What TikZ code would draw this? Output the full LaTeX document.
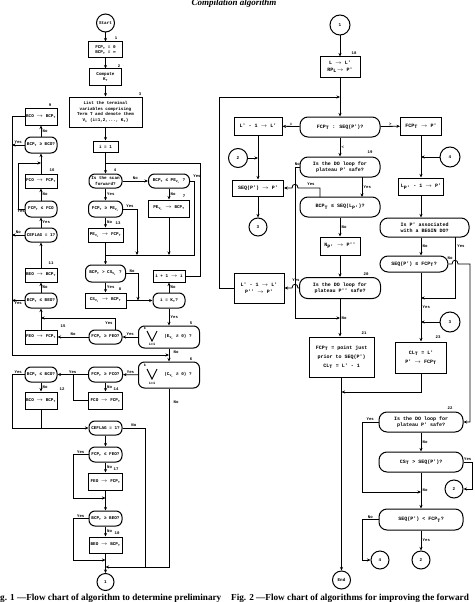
\documentclass[tikz,border=0pt]{standalone}
\usepackage{fontspec}
\setmainfont{Liberation Serif}
\newfontfamily\dtt{Liberation Mono}
\usetikzlibrary{arrows.meta}
\newcommand{\sbs}[1]{\textsubscript{#1}}
\newcommand{\rarr}{$\rightarrow$}
\tikzset{
  sz/.style 2 args={minimum width=#1pt, minimum height=#2pt},
  box/.style={draw, line width=1pt, inner sep=0.5pt, align=center, font=\dtt\bfseries\fontsize{4.3}{5.6}\selectfont},
  stad/.style={box, rounded corners=6pt},
  rbox/.style={box, font=\dtt\bfseries\fontsize{5}{6.5}\selectfont},
  rstad/.style={rbox, rounded corners=8pt},
  circ/.style={draw, circle, line width=1pt, inner sep=0pt, font=\dtt\bfseries\fontsize{4.3}{5}\selectfont},
  lab/.style={font=\dtt\bfseries\fontsize{4}{4}\selectfont, inner sep=0.3pt},
  tiny/.style={font=\dtt\bfseries\fontsize{3.5}{3.5}\selectfont, inner sep=0pt},
  con/.style={line width=0.8pt},
  vee/.style={line width=0.9pt, line join=miter},
  arr/.style={con, -{Stealth[length=3.5pt,width=3pt]}},
}
\begin{document}
\begin{tikzpicture}[x=1pt,y=-1pt]
\useasboundingbox (0,0) rectangle (474,602);
\fill[white] (0,0) rectangle (474,602);
% title and captions
\node[font=\fontsize{9}{9}\selectfont\itshape\bfseries, anchor=base] (title) at (234,6) {Compilation algorithm};
\node[font=\fontsize{9.2}{9.2}\selectfont\bfseries, anchor=base west, inner sep=0] (cap1) at (0,600) {g. 1 ---Flow chart of algorithm to determine preliminary};
\node[font=\fontsize{9.2}{9.2}\selectfont\bfseries, anchor=base west, inner sep=0] (cap2) at (231,600) {Fig. 2 ---Flow chart of algorithms for improving the forward};

% ================= LEFT CHART =================
\node[circ, minimum size=18pt] (start) at (105.5,23) {Start};
\node[box, sz={34}{16}] (b1) at (105.5,50) {FCP\sbs{T} = 0\\BCP\sbs{T} = ∞};
\node[lab] (l1) at (116,38) {1};
\node[box, sz={32}{16}] (b2) at (105.5,77) {Compute\\K\sbs{T}};
\node[lab] (l2) at (119,66) {2};
\node[box, sz={73}{30}] (b3) at (105.5,112) {List the terminal\\variables comprising\\Term T and denote them\\V\sbs{i} (i=1,2,..., K\sbs{T})};
\node[lab] (l3) at (140,94) {3};
\node[box, sz={32}{17}] (b9) at (41,116.5) {BCO \rarr{} BCP\sbs{T}};
\node[lab] (l9) at (50,105) {9};
\node[stad, sz={32}{16}] (sA) at (41,145) {BCP\sbs{T} ≥ BCO?};
\node[box, sz={25}{11}] (bi1) at (105.5,146.5) {i = 1};
\node[box, sz={32}{14}] (b16) at (41,181) {FCO \rarr{} FCP\sbs{T}};
\node[lab] (l16) at (52,170) {16};
\node[stad, sz={33}{14}] (s4) at (105.5,181) {Is the scan\\forward?};
\node[lab] (l4) at (115,170) {4};
\node[stad, sz={41}{14}] (sB) at (169,181) {BCP\sbs{T} ≤ PE\sbs{V\sbs{1}} ?};
\node[stad, sz={32}{16}] (sC) at (41,209) {FCP\sbs{T} ≤ FCO};
\node[stad, sz={34}{16}] (sD) at (105.5,209) {FCP\sbs{T} ≥ PE\sbs{V\sbs{1}}};
\node[box, sz={41}{17}] (b7) at (169,208.5) {PE\sbs{V\sbs{1}} \rarr{} BCP\sbs{T}};
\node[lab] (l7) at (184,196) {7};
\node[stad, sz={32}{14}] (sE) at (41,235) {CEFLAG = 1?};
\node[box, sz={35}{14}] (b13) at (105.5,235) {PE\sbs{V\sbs{1}} \rarr{} FCP\sbs{T}};
\node[lab] (l13) at (118,223) {13};
\node[box, sz={32}{14}] (b11) at (41,275) {BEO \rarr{} BCP\sbs{T}};
\node[lab] (l11) at (51,263) {11};
\node[stad, sz={40}{17}] (sF) at (105.5,273.5) {BCP\sbs{T} > CS\sbs{V\sbs{1}} ?};
\node[box, sz={32}{12}] (binc) at (169,276) {i + 1 \rarr{} i};
\node[stad, sz={32}{15}] (sG) at (41,300.5) {BCP\sbs{T} ≤ BEO?};
\node[box, sz={41}{15}] (b8) at (105.5,300.5) {CS\sbs{V\sbs{1}} \rarr{} BCP\sbs{T}};
\node[lab] (l8) at (120,289) {8};
\node[stad, sz={32}{15}] (sH) at (169,300.5) {i = K\sbs{T}?};
\node[box, sz={32}{14}] (b15) at (41,337) {FEO \rarr{} FCP\sbs{T}};
\node[lab] (l15) at (63,326) {15};
\node[stad, sz={33}{14}] (sI) at (105.5,337) {FCP\sbs{T} ≥ FEO?};
% big OR conditions
\node[stad, sz={61}{22}] (s5) at (169,337) {\hspace{18pt}(E\sbs{V\sbs{i}} ≠ 0) ?};
\draw[vee] (147,331) -- (152,341) -- (157,331);
\node[tiny] (k5) at (145,328) {k};
\node[tiny] (i5) at (152,344.5) {i=1};
\node[lab] (l5) at (191,323) {5};
\node[stad, sz={61}{26}] (s6) at (169,375) {\hspace{18pt}(C\sbs{V\sbs{i}} ≠ 0) ?};
\draw[vee] (147,369) -- (152,379) -- (157,369);
\node[tiny] (k6) at (145,365.5) {k};
\node[tiny] (i6) at (152,383) {i=1};
\node[lab] (l6) at (191,359) {6};
\node[stad, sz={32}{15}] (sJ) at (41,374.5) {BCP\sbs{T} ≤ BCO?};
\node[stad, sz={34}{15}] (sK) at (105.5,374.5) {FCP\sbs{T} ≥ FCO?};
\node[box, sz={32}{17}] (b12) at (41,400.5) {BCO \rarr{} BCP\sbs{T}};
\node[lab] (l12) at (62,389) {12};
\node[box, sz={34}{17}] (b14) at (105.5,400.5) {FCO \rarr{} FCP\sbs{T}};
\node[lab] (l14) at (116,389) {14};
\node[stad, sz={33}{14}] (sL) at (105.5,428) {CEFLAG = 1?};
\node[stad, sz={33}{15}] (sM) at (105.5,454.5) {FCP\sbs{T} ≤ FEO?};
\node[box, sz={34}{17}] (b17) at (105.5,481.5) {FEO \rarr{} FCP\sbs{T}};
\node[lab] (l17) at (116,469) {17};
\node[stad, sz={33}{15}] (sN) at (105.5,518.5) {BCP\sbs{T} ≥ BEO?};
\node[box, sz={33}{16}] (b10) at (105.5,545) {BEO \rarr{} BCP\sbs{T}};
\node[lab] (l10) at (117,533) {10};
\node[circ, minimum size=17pt] (c1) at (105.5,582) {1};

% left connectors
\draw[arr] (start) -- (b1);
\draw[arr] (b1) -- (b2);
\draw[arr] (b2) -- (b3);
\draw[arr] (b3) -- (bi1);
\draw[arr] (bi1) -- (s4);
\draw[arr] (s4) -- node[lab, above=0.5pt]{No} (sB);
\draw[arr] (s4) -- node[lab, right=1pt]{Yes} (sD);
\draw[arr] (sB) -- node[lab, right=1pt]{No} (b7);
\draw[con] (sB.east) -- (194,181) -- (194,255) -- (105.5,255);
\node[lab] (lyB) at (197,176) {Yes};
\draw[arr] (sD.east) -- node[lab, above=0.5pt]{Yes} (137,209) -- (137,255);
\draw[arr] (sD) -- node[lab, right=1pt]{No} (b13);
\draw[arr] (b7) -- (169,255);
\draw[arr] (b13) -- (sF);
\draw[arr] (sF) -- node[lab, right=1pt]{Yes} (b8);
\draw[arr] (b8) -- (sH);
\draw[arr] (sF.east) -- node[lab, above=0.5pt]{No} (138,273.5) -- (138,300.5);
\draw[arr] (sH) -- node[lab, right=1pt]{No} (binc);
\draw[con] (binc.east) -- (200,276) -- (200,163) -- (105.5,163);
\draw[arr] (sH) -- node[lab, right=1pt]{Yes} (s5);
\draw[arr] (s5) -- node[lab, above=0.5pt]{Yes} (sI);
\draw[arr] (sI) -- node[lab, above=0.5pt]{No} (b15);
\draw[arr] (115,330) -- (115,318) -- (41,318);
\node[lab] (lyI) at (109,323) {Yes};
\draw[arr] (b15) -- (sG);
\draw[arr] (sG) -- node[lab, right=1pt]{No} (b11);
\draw[arr] (b11) -- (sE);
\draw[arr] (sE) -- node[lab, right=1pt]{Yes} (sC);
\draw[arr] (sC) -- node[lab, right=1pt]{No} (b16);
\draw[arr] (b16) -- (sA);
\draw[arr] (sA) -- node[lab, right=1pt]{No} (b9);
\draw[arr] (sC.west) -- node[lab, below=0.5pt]{Yes} (18,209) -- (18,163) -- (41,163);
\draw[arr] (b9.west) -- (12,116.5) -- (12,355) -- (169,355);
\draw[arr] (sA.west) -- node[lab, above=0.5pt]{Yes} (12,145);
\draw[arr] (sE.west) -- node[lab, above=0.5pt]{No} (12,235);
\draw[arr] (sG.west) -- node[lab, below=0.5pt]{Yes} (12,300.5);
\draw[arr] (s5) -- (s6);
\node[lab] (lnS5) at (176,352) {No};
\draw[arr] (s6) -- node[lab, above=0.5pt]{Yes} (sK);
\draw[arr] (sK) -- node[lab, above=0.5pt]{Yes} (sJ);
\draw[arr] (sK) -- node[lab, right=1pt]{No} (b14);
\draw[con] (b14.west) -- (73,400.5) -- (73,374.5);
\draw[arr] (sJ) -- node[lab, right=1pt]{No} (b12);
\draw[con] (b12.south) -- (41,428);
\draw[arr] (sJ.west) -- node[lab, above=0.5pt]{Yes} (12,374.5) -- (12,428) -- (sL.west);
\draw[arr] (sL) -- (sM);
\draw[con] (sL.east) -- node[lab, above=0.5pt]{No} (145,428) -- (145,567);
\draw[arr] (sM.west) -- node[lab, above=0.5pt]{Yes} (73,454.5) -- (73,498) -- (105.5,498);
\draw[arr] (sM) -- node[lab, right=1pt]{No} (b17);
\draw[arr] (b17) -- (sN);
\draw[arr] (sN.west) -- node[lab, above=0.5pt]{Yes} (73,518.5) -- (73,560) -- (105.5,560);
\draw[arr] (sN) -- node[lab, right=1pt]{No} (b10);
\draw[arr] (b10) -- (c1);
\draw[arr] (s6) -- (169,567) -- (105.5,567);
\node[lab] (lnS6) at (176,402) {No};

% ================= RIGHT CHART =================
\node[circ, minimum size=20pt] (r1) at (340,25) {1};
\node[rbox, sz={40}{20}] (b18) at (340,67) {L \rarr{} L'\\RP\sbs{L}\rarr{} P'};
\node[lab] (l18) at (354,53) {18};
\node[rstad, sz={80}{20}] (sFCP) at (340,127) {FCP\sbs{T} : SEQ(P')?};
\node[rbox, sz={48}{18}] (bL1) at (258,126) {L' - 1 \rarr{} L'};
\node[rbox, sz={41}{18}] (bFP) at (421,126) {FCP\sbs{T} \rarr{} P'};
\node[circ, minimum size=19pt] (r2a) at (238,158) {2};
\node[circ, minimum size=20pt] (r4a) at (450,157) {4};
\node[rstad, sz={80}{20}] (s19) at (340,167) {Is the DO loop for\\plateau P' safe?};
\node[lab] (l19) at (370,152) {19};
\node[rbox, sz={51}{16}] (bSEQ) at (258,188) {SEQ(P') \rarr{} P'};
\node[rbox, sz={45}{17}] (bLP) at (421,186.5) {L\sbs{P'} - 1 \rarr{} P'};
\node[rstad, sz={80}{20}] (sBCP) at (340,207) {BCP\sbs{T} ≤ SEQ(L\sbs{P'})?};
\node[circ, minimum size=18pt] (r3a) at (258,227) {3};
\node[rstad, sz={89}{19}] (sAs) at (424.5,227.5) {Is P' associated\\with a BEGIN DO?};
\node[rbox, sz={40}{18}] (bNP) at (340,246) {N\sbs{P'} \rarr{} P''};
\node[rstad, sz={68}{16}] (sSle) at (414,264) {SEQ(P') ≤ FCP\sbs{T}?};
\node[rbox, sz={50}{30}] (b20L) at (259,288) {L' - 1 \rarr{} L'\\P'' \rarr{} P'};
\node[rstad, sz={81}{21}] (s20) at (340,288) {Is the DO loop for\\plateau P'' safe?};
\node[lab] (l20) at (366,274) {20};
\node[circ, minimum size=20pt] (r3b) at (450,322) {3};
\node[rbox, sz={65}{40}, font=\dtt\bfseries\fontsize{5}{9}\selectfont] (b21) at (341.5,357) {FCP\sbs{T} = point just\\prior to SEQ(P')\\CL\sbs{T} = L' - 1};
\node[lab] (l21) at (364,333) {21};
\node[rbox, sz={51}{31}, font=\dtt\bfseries\fontsize{5}{9}\selectfont] (b23) at (421,357.5) {CL\sbs{T} = L'\\P' \rarr{} FCP\sbs{T}};
\node[lab] (l23) at (438,337) {23};
\node[rstad, sz={84}{20}] (s22) at (421,422) {Is the DO loop for\\plateau P' safe?};
\node[lab] (l22) at (450,408) {22};
\node[rstad, sz={84}{20}] (sCS) at (421,462) {CS\sbs{T} > SEQ(P')?};
\node[circ, minimum size=18pt] (r2b) at (454,489) {2};
\node[rstad, sz={84}{21}] (sSlt) at (421,519.5) {SEQ(P') < FCP\sbs{T}?};
\node[circ, minimum size=18pt] (r4b) at (380,560) {4};
\node[circ, minimum size=18pt] (r2c) at (421,560) {2};
\node[circ, minimum size=18pt] (rEnd) at (341.5,580) {End};

% right connectors
\draw[arr] (r1) -- (b18);
\draw[arr] (b18) -- (sFCP);
\draw[arr] (sFCP) -- node[lab, above=0.5pt]{=} (bL1);
\draw[arr] (sFCP) -- node[lab, above=0.5pt]{>} (bFP);
\draw[arr] (sFCP) -- node[lab, right=1pt]{<} (s19);
\draw[arr] (bL1) -- (bSEQ);
\draw[arr] (r2a) -- (r2a -| bL1);
\draw[arr] (bSEQ) -- (r3a);
\draw[arr] (bFP) -- (bLP);
\draw[arr] (r4a) -- (r4a -| bLP);
\draw[arr] (bLP) -- (bLP |- sAs.north);
\draw[arr] (sAs.south -| bLP) -- node[lab, right=1pt]{No} (bLP |- sSle.north);
\draw[arr] (sSle.south -| bLP) -- node[lab, right=1pt]{Yes} (b23);
\draw[arr] (455,237) -- (455,298) -- (421,298);
\node[lab] (lyAs) at (461,246) {Yes};
\draw[arr] (r3b) -- (r3b -| b23);
\draw[arr] (sSle.east) -- (452,264) .. controls (452,259) and (458,259) .. (458,264) -- (470,264) -- (470,422) -- (s22.east);
\node[lab] (lnSle) at (450,258) {No};
\draw[arr] (b23) -- (421,392) -- (341.5,392);
\draw[arr] (362,177) -- node[lab, right=1pt]{Yes} (362,197);
\draw[arr] (s19.west) -- node[lab, above=0.5pt]{No} (295,167) -- (295,318) -- (340,318);
\draw[arr] (320,197) -- (320,188) -- (298,188) .. controls (298,183) and (292,183) .. (292,188) -- (bSEQ.east);
\node[lab] (lyB19) at (311,184) {Yes};
\draw[arr] (sBCP) -- node[lab, right=1pt]{No} (bNP);
\draw[arr] (bNP) -- (s20);
\draw[arr] (s20.west) -- (298,288) .. controls (298,283) and (292,283) .. (292,288) -- (b20L.east);
\node[lab] (ly20) at (296,280) {Yes};
\draw[arr] (b20L.west) -- (219,288) -- (219,97) -- (340,97);
\draw[arr] (s20) -- node[lab, right=1pt]{No} (s20 |- b21.north);
\draw[arr] (b21) -- (rEnd);
\draw[arr] (s22) -- node[lab, right=1pt]{No} (sCS);
\draw[arr] (s22.west) -- node[lab, above=0.5pt]{Yes} (362,422) -- (362,492) -- (421,492);
\draw[arr] (sCS) -- node[lab, right=1pt]{No} (sSlt);
\draw[arr] (sCS.east) -- node[lab, above=0.5pt]{Yes} (472,462) -- (472,489) -- (r2b.east);
\draw[arr] (sSlt.west) -- node[lab, above=0.5pt]{No} (362,519.5) -- (362,560) -- (r4b.west);
\draw[arr] (sSlt) -- node[lab, right=1pt]{Yes} (r2c);
\end{tikzpicture}
\end{document}
